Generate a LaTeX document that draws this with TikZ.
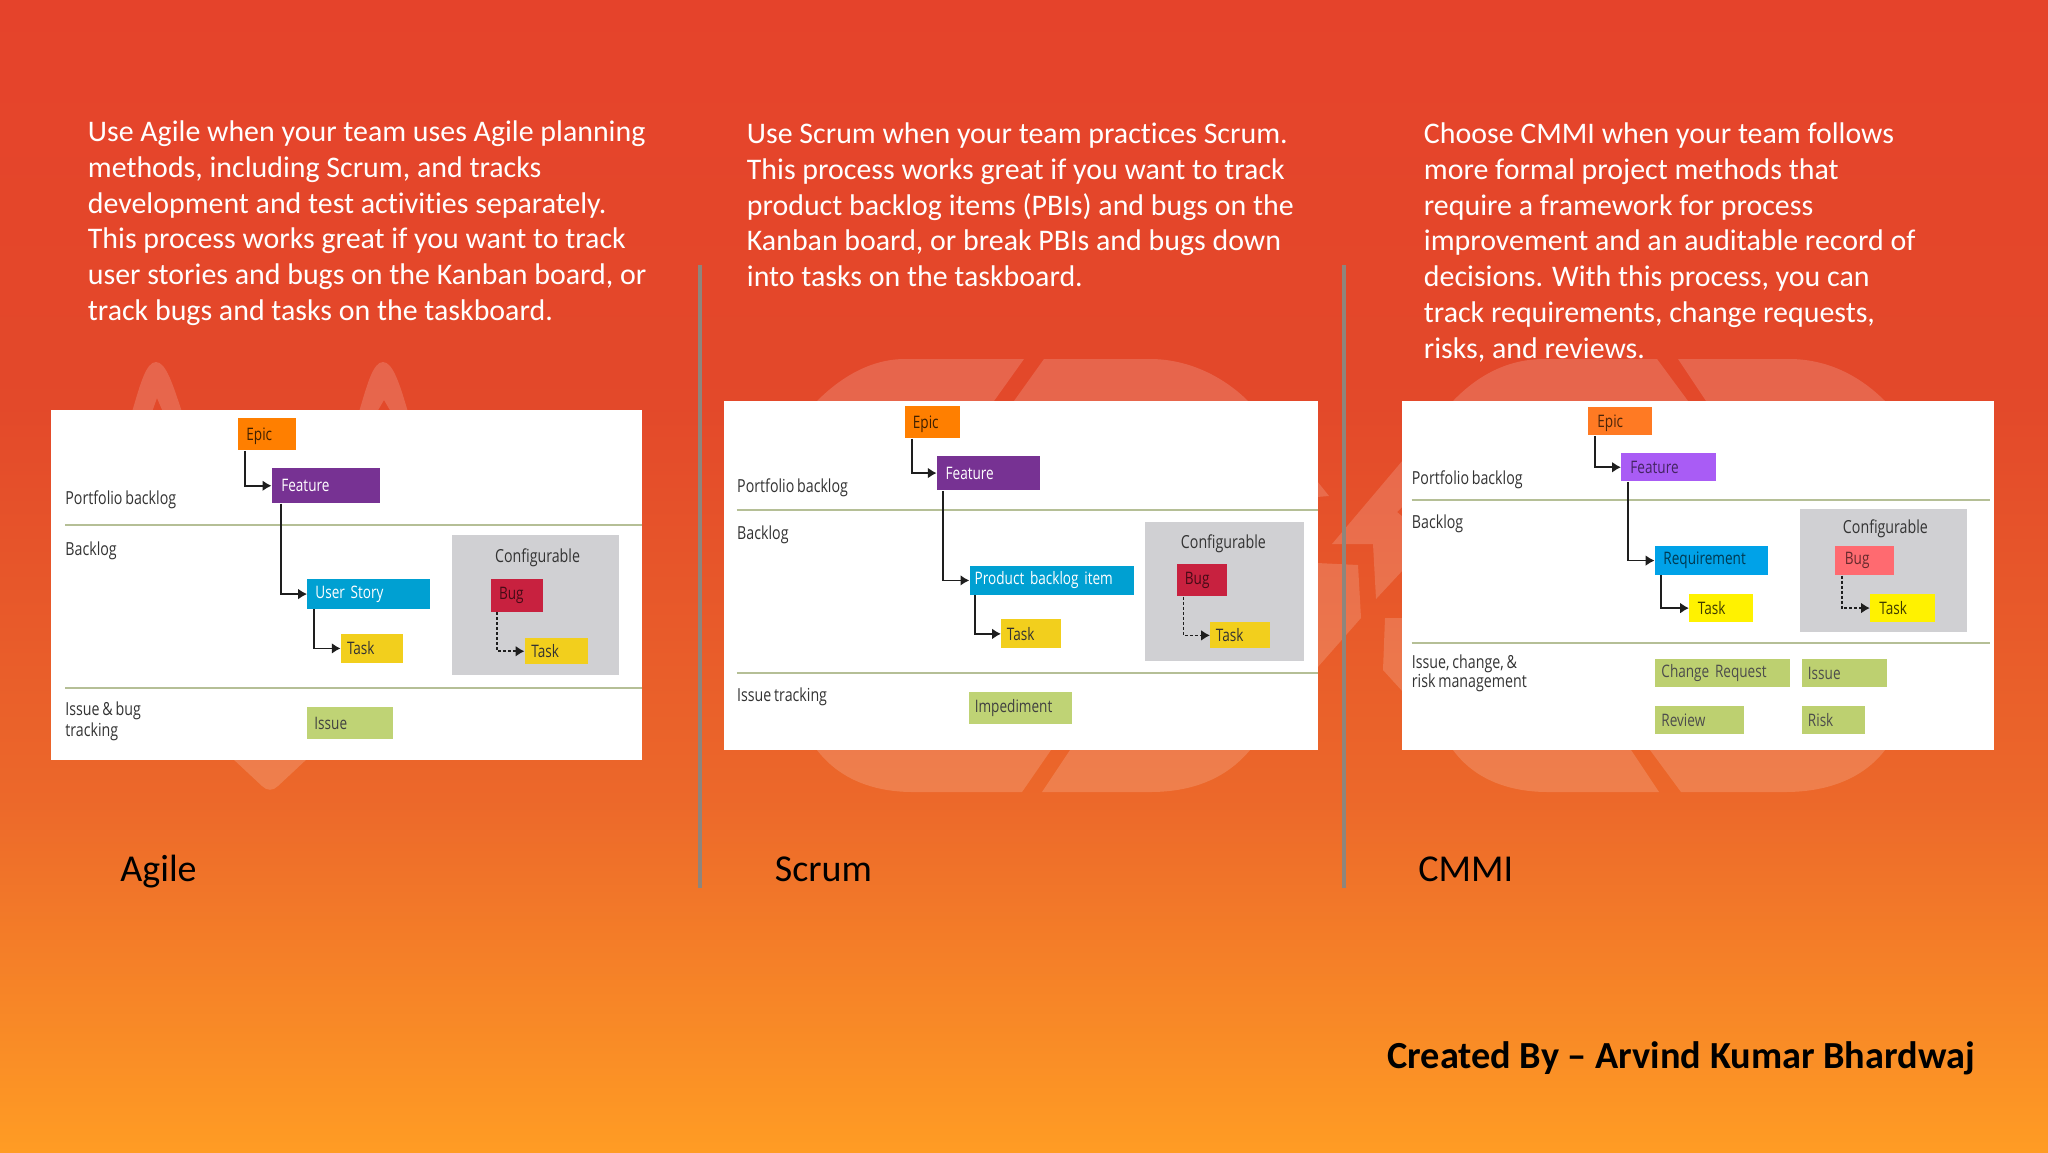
\documentclass[tikz,border=0pt]{standalone}
\usepackage{fontspec}
\setmainfont[Ligatures=NoCommon]{Carlito}
\newfontfamily\lblfont[FakeStretch=0.79,WordSpace=0.75]{Open Sans}
\usetikzlibrary{arrows.meta}
\definecolor{orgA}{HTML}{FF7F00}\definecolor{purA}{HTML}{773293}\definecolor{bluA}{HTML}{00A0D2}
\definecolor{yelA}{HTML}{F2CF1D}\definecolor{redA}{HTML}{C8213F}\definecolor{grnA}{HTML}{BFD375}
\definecolor{orgC}{HTML}{FF7A23}\definecolor{purC}{HTML}{A95CF5}\definecolor{bluC}{HTML}{00A2E8}
\definecolor{yelC}{HTML}{FFF200}\definecolor{redC}{HTML}{FF6A70}\definecolor{grnC}{HTML}{BDD070}
\definecolor{cfgGray}{HTML}{D0D0D3}\definecolor{ruleCol}{HTML}{B5BF96}\definecolor{sepCol}{HTML}{8E857C}
\definecolor{txtDark}{HTML}{333333}\definecolor{inkC}{HTML}{1E1E1E}
\pgfdeclareverticalshading{slidebg}{100bp}{
  rgb(0bp)=(1,0.612,0.141);
  rgb(25bp)=(1,0.612,0.141);
  rgb(33.8bp)=(0.957,0.494,0.157);
  rgb(40.3bp)=(0.925,0.408,0.165);
  rgb(57.6bp)=(0.89,0.285,0.165);
  rgb(75bp)=(0.9,0.263,0.168);
  rgb(100bp)=(0.9,0.263,0.168)}
\tikzset{
  wm/.style={fill=white,fill opacity=0.16,draw=none},
  panel/.style={fill=white,draw=none},
  rulel/.style={draw=ruleCol,line width=0.9pt},
  sepl/.style={draw=sepCol,line width=2pt},
  conn/.style={draw=inkC,line width=0.9pt,-{Latex[length=4.4pt,width=5.4pt]}},
  dconn/.style={conn,dash pattern=on 1.5pt off 1pt},
  boxn/.style={draw=none,anchor=north west,inner ysep=0pt,align=left,font=\lblfont\fontsize{8.6}{10}\selectfont},
  lbl/.style={anchor=west,inner sep=0pt,yshift=-1.1pt,text=txtDark,align=left,font=\lblfont\fontsize{9}{10.3}\selectfont},
  para/.style={anchor=north west,inner sep=0pt,text=white,align=left,font=\fontsize{14.95}{17.93}\selectfont},
  capt/.style={anchor=base west,inner sep=0pt,text=black,font=\fontsize{19}{22}\selectfont},
  cfg/.style={fill=cfgGray,draw=none}
}
\newcommand{\EpicTxt}{\rule{0pt}{8.5pt}Epic}
% name, x1, y1, x2, y2, fill, text colour, left pad, text
\newcommand{\bx}[9]{%
  \pgfmathsetmacro{\bw}{(#4-#2)*0.5}%
  \pgfmathsetmacro{\bh}{(#5-#3)*0.5}%
  \pgfmathsetmacro{\bp}{#8*0.5}%
  \pgfmathsetmacro{\bt}{(#4-#2-2*#8)*0.5}%
  \node[boxn,fill=#6,text=#7,minimum width=\bw pt,minimum height=\bh pt,inner xsep=\bp pt,text width=\bt pt] (#1) at (#2,#3) {#9};}
\begin{document}
\begin{tikzpicture}[x=0.5pt,y=-0.5pt]
\useasboundingbox (0,0) rectangle (2048,1152);
\shade[shading=slidebg] (0,0) rectangle (2048,1152);
% watermark, Agile
\path[wm] (132,412) .. controls (140,385) and (146,362) .. (156,362) .. controls (166,362) and (173,385) .. (182,412) -- (163,412) -- (157,398) -- (152,412) -- cycle;
\path[wm] (359,412) .. controls (367,385) and (373,362) .. (383,362) .. controls (393,362) and (400,385) .. (408,412) -- (391,412) -- (384,400) -- (377,412) -- cycle;
\path[wm] (232,758) -- (262,786) .. controls (267,791) and (273,791) .. (278,786) -- (308,758) -- cycle;
% watermark, Scrum
\path[wm] (1024,359) -- (905,359) .. controls (870,359) and (840,378) .. (817,401) -- (817,750) .. controls (840,780) and (875,792) .. (913,792) -- (1022,792) -- (1051,750) -- (994,401) -- cycle;
\path[wm] (1044,359) -- (1150,359) .. controls (1190,359) and (1225,378) .. (1248,401) -- (1250,750) .. controls (1225,780) and (1190,792) .. (1150,792) -- (1042,792) -- (1070,750) -- (1014,401) -- cycle;
% watermark, CMMI
\path[wm] (1657,359) -- (1544,359) .. controls (1505,359) and (1475,378) .. (1453,401) -- (1453,750) .. controls (1475,780) and (1510,792) .. (1548,792) -- (1659,792) -- (1631,750) -- (1688,401) -- cycle;
\path[wm] (1678,359) -- (1789,359) .. controls (1830,359) and (1862,378) .. (1885,401) -- (1885,750) .. controls (1862,780) and (1825,792) .. (1785,792) -- (1681,792) -- (1650,750) -- (1706,401) -- cycle;
% watermark, arrows between the panels
\path[wm] (1403,460) -- (1332,544) -- (1373,544) -- (1376,599) -- (1403,570) -- (1403,517) -- (1397,512) -- (1403,506) -- cycle;
\path[wm] (1317,563) -- (1358,565) -- (1361,618) -- (1317,668) -- cycle;
\path[wm] (1317,481) -- (1329,496) -- (1317,497) -- cycle;
\path[wm] (1385,618) -- (1403,618) -- (1403,692) -- (1383,670) -- cycle;
% separators
\draw[sepl] (700,265) -- (700,888);
\draw[sepl] (1343.5,265) -- (1343.5,888);
% paragraphs
\node[para] (pa) at (87.5,117) {\rule{0pt}{12pt}Use Agile when your team uses Agile planning\\methods, including Scrum, and tracks\\development and test activities separately.\\This process works great if you want to track\\user stories and bugs on the Kanban board, or\\track bugs and tasks on the taskboard.};
\node[para] (pb) at (746.5,119) {\rule{0pt}{12pt}Use Scrum when your team practices Scrum.\\This process works great if you want to track\\product backlog items (PBIs) and bugs on the\\Kanban board, or break PBIs and bugs down\\into tasks on the taskboard.};
\node[para] (pc) at (1423.5,119) {\rule{0pt}{12pt}Choose CMMI when your team follows\\more formal project methods that\\require a framework for process\\improvement and an auditable record of\\decisions. With this process, you can\\track requirements, change requests,\\risks, and reviews.};
% captions
\node[capt] (ca) at (120,881) {Agile};
\node[capt] (cb) at (774.5,881) {Scrum};
\node[capt] (cc) at (1418,881) {CMMI};
\node[capt,font=\bfseries\fontsize{19.15}{22}\selectfont] (by) at (1387,1068) {Created By -- Arvind Kumar Bhardwaj};
% ===== Agile panel
\fill[panel] (51,410) rectangle (642,760);
\draw[rulel] (65,525.3) -- (642,525.3);
\draw[rulel] (65,688) -- (642,688);
\node[lbl] (a1) at (65,498) {Portfolio backlog};
\node[lbl] (a2) at (65,548.7) {Backlog};
\node[lbl] (a3) at (65,719) {Issue \& bug\\tracking};
\fill[cfg] (452,535) rectangle (619,675);
\node[lbl,anchor=center] (acfg) at (537.5,556) {Configurable};
\bx{ae}{238}{418}{295.5}{450}{orgA}{black!75!orgA}{8}{\EpicTxt}
\bx{af}{271.4}{468}{379.5}{502.7}{purA}{white}{9.5}{Feature}
\bx{au}{307}{579}{429.5}{608.3}{bluA}{white}{8}{User Story}
\bx{at}{340.6}{633.3}{402.7}{662.7}{yelA}{black!80}{6}{Task}
\bx{ab}{490.6}{579}{543}{611.3}{redA}{black!65!redA}{8}{Bug}
\bx{ax}{524.5}{637.7}{587.5}{664}{yelA}{black!80}{6.5}{Task}
\bx{ai}{307}{706.7}{392.4}{738.7}{grnA}{black!75}{7}{Issue}
\draw[conn] ([xshift=3.5pt]ae.south west) |- (af.west);
\draw[conn] ([xshift=4.8pt]af.south west) |- (au.west);
\draw[conn] ([xshift=3.5pt]au.south west) |- (at.west);
\draw[dconn] ([xshift=3.2pt]ab.south west) |- (ax.west);
% ===== Scrum panel
\fill[panel] (723.8,401) rectangle (1318.4,750);
\draw[rulel] (736.8,509.7) -- (1318.4,509.7);
\draw[rulel] (736.8,673) -- (1318.4,673);
\node[lbl] (b1) at (736.8,485.7) {Portfolio backlog};
\node[lbl] (b2) at (736.8,532.7) {Backlog};
\node[lbl] (b3) at (736.8,694.7) {Issue tracking};
\fill[cfg] (1144.5,522) rectangle (1303.6,661);
\node[lbl,anchor=center] (bcfg) at (1223.4,542) {Configurable};
\bx{be}{905}{406}{959.7}{437.7}{orgA}{black!75!orgA}{7.5}{\EpicTxt}
\bx{bf}{936.7}{455.3}{1039.5}{490}{purA}{white}{8.5}{Feature}
\bx{bu}{969.3}{565.7}{1133.6}{594.3}{bluA}{white}{5}{Product backlog item}
\bx{bt}{1001}{619}{1060.3}{648}{yelA}{black!80}{5.5}{Task}
\bx{bb}{1177}{564}{1226.9}{596}{redA}{black!65!redA}{7.5}{Bug}
\bx{bx}{1210}{622}{1269.8}{648}{yelA}{black!80}{5.5}{Task}
\bx{bi}{968.4}{691.7}{1071.6}{723.3}{grnA}{black!75}{6}{Impediment}
\draw[conn] ([xshift=3.3pt]be.south west) |- (bf.west);
\draw[conn] ([xshift=3.3pt]bf.south west) |- (bu.west);
\draw[conn] ([xshift=2.9pt]bu.south west) |- (bt.west);
\draw[dconn] ([xshift=3.2pt]bb.south west) |- (bx.west);
% ===== CMMI panel
\fill[panel] (1402,401) rectangle (1993.5,750);
\draw[rulel] (1411.5,500.3) -- (1989.6,500.3);
\draw[rulel] (1411.5,642.7) -- (1989.6,642.7);
\node[lbl] (c1) at (1411.5,478) {Portfolio backlog};
\node[lbl] (c2) at (1411.5,522) {Backlog};
\node[lbl] (c3) at (1411.5,671) {Issue, change, \&\\[-0.8pt]risk management};
\fill[cfg] (1799.8,509) rectangle (1967,632);
\node[lbl,anchor=center] (ccfg) at (1885.4,526.7) {Configurable};
\bx{ce}{1588}{406.7}{1652}{435}{orgC}{black!70!orgC}{9}{\EpicTxt}
\bx{cf}{1621}{452.7}{1715.5}{481}{purC}{black!60!purC}{9}{Feature}
\bx{cu}{1654.5}{546}{1767.8}{574.3}{bluC}{black!65!bluC}{8.5}{Requirement}
\bx{ct}{1689}{593.7}{1752.7}{621.7}{yelC}{black!75!yelC}{8.5}{Task}
\bx{cb}{1835}{546}{1893.6}{574.7}{redC}{black!60!redC}{9.5}{Bug}
\bx{cx}{1869.9}{593.3}{1934.3}{622}{yelC}{black!75!yelC}{9}{Task}
\bx{cr}{1654.5}{658.7}{1789.4}{687}{grnC}{black!70}{6.5}{Change Request}
\bx{ci}{1801.5}{658.7}{1886.7}{687}{grnC}{black!70}{6}{Issue}
\bx{cv}{1654.5}{706}{1743.6}{734}{grnC}{black!70}{6.5}{Review}
\bx{ck}{1801.5}{706}{1864.7}{734}{grnC}{black!70}{6}{Risk}
\draw[conn] ([xshift=3.4pt]ce.south west) |- (cf.west);
\draw[conn] ([xshift=3.5pt]cf.south west) |- (cu.west);
\draw[conn] ([xshift=3.4pt]cu.south west) |- (ct.west);
\draw[dconn] ([xshift=3.5pt]cb.south west) |- (cx.west);
\end{tikzpicture}
\end{document}
